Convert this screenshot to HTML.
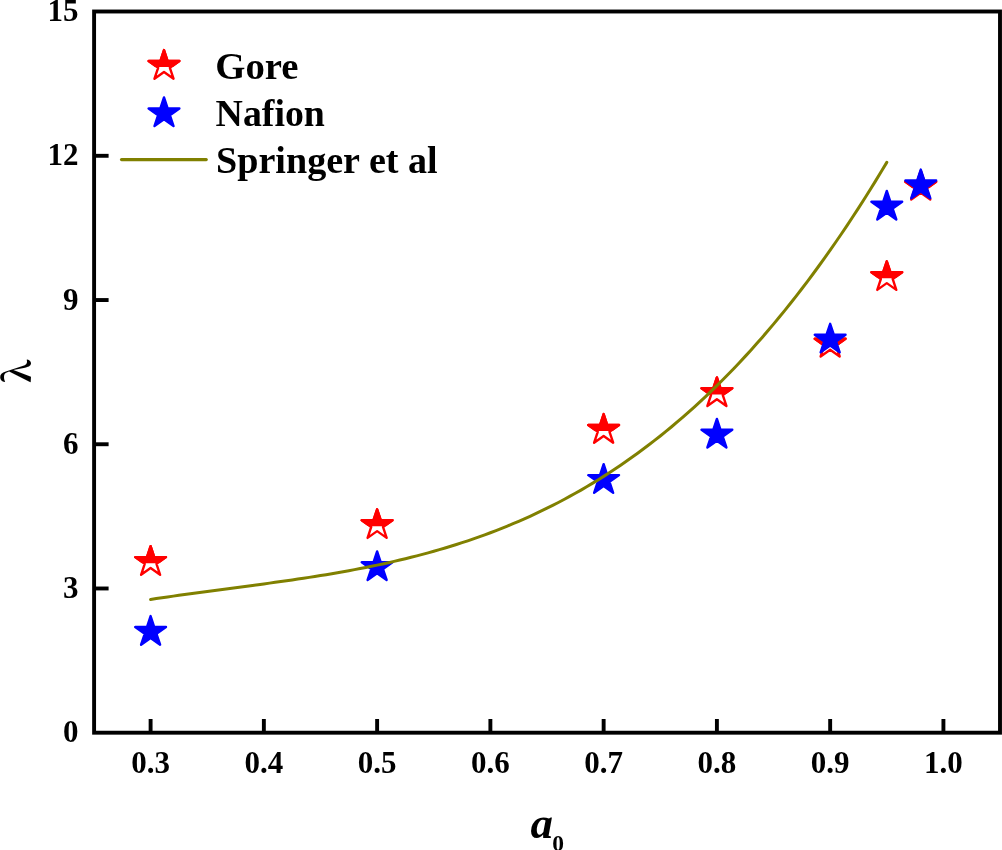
<!DOCTYPE html>
<html lang="en"><head><meta charset="utf-8"><title>Water content vs activity</title>
<style>
html,body{margin:0;padding:0;background:#fff;}
body{width:1002px;height:850px;overflow:hidden;}
svg{display:block;}
text{font-family:"Liberation Serif",serif;font-weight:bold;fill:#000;}
.tick{font-size:31px;}
.leg{font-size:37px;}
.ttl{font-size:45px;}
</style></head><body>
<svg width="1002" height="850" viewBox="0 0 1002 850">
<defs>
<clipPath id="half"><rect x="-30" y="-30" width="60" height="31.4"/></clipPath>
</defs>
<rect width="1002" height="850" fill="#fff"/>
<g id="gore">
<g transform="translate(150.60 561.80)"><path d="M0.00 -15.61 L3.63 -4.69 L15.40 -4.69 L5.88 2.07 L9.52 12.99 L0.00 6.24 L-9.52 12.99 L-5.88 2.07 L-15.40 -4.69 L-3.63 -4.69Z" fill="#fff" stroke="#f00" stroke-width="2.4" stroke-linejoin="round"/><path d="M0.00 -15.61 L3.63 -4.69 L15.40 -4.69 L5.88 2.07 L9.52 12.99 L0.00 6.24 L-9.52 12.99 L-5.88 2.07 L-15.40 -4.69 L-3.63 -4.69Z" fill="#f00" stroke="#f00" stroke-width="2.4" stroke-linejoin="round" clip-path="url(#half)"/></g>
<g transform="translate(377.12 524.90)"><path d="M0.00 -15.61 L3.63 -4.69 L15.40 -4.69 L5.88 2.07 L9.52 12.99 L0.00 6.24 L-9.52 12.99 L-5.88 2.07 L-15.40 -4.69 L-3.63 -4.69Z" fill="#fff" stroke="#f00" stroke-width="2.4" stroke-linejoin="round"/><path d="M0.00 -15.61 L3.63 -4.69 L15.40 -4.69 L5.88 2.07 L9.52 12.99 L0.00 6.24 L-9.52 12.99 L-5.88 2.07 L-15.40 -4.69 L-3.63 -4.69Z" fill="#f00" stroke="#f00" stroke-width="2.4" stroke-linejoin="round" clip-path="url(#half)"/></g>
<g transform="translate(603.64 429.70)"><path d="M0.00 -15.61 L3.63 -4.69 L15.40 -4.69 L5.88 2.07 L9.52 12.99 L0.00 6.24 L-9.52 12.99 L-5.88 2.07 L-15.40 -4.69 L-3.63 -4.69Z" fill="#fff" stroke="#f00" stroke-width="2.4" stroke-linejoin="round"/><path d="M0.00 -15.61 L3.63 -4.69 L15.40 -4.69 L5.88 2.07 L9.52 12.99 L0.00 6.24 L-9.52 12.99 L-5.88 2.07 L-15.40 -4.69 L-3.63 -4.69Z" fill="#f00" stroke="#f00" stroke-width="2.4" stroke-linejoin="round" clip-path="url(#half)"/></g>
<g transform="translate(716.90 393.00)"><path d="M0.00 -15.61 L3.63 -4.69 L15.40 -4.69 L5.88 2.07 L9.52 12.99 L0.00 6.24 L-9.52 12.99 L-5.88 2.07 L-15.40 -4.69 L-3.63 -4.69Z" fill="#fff" stroke="#f00" stroke-width="2.4" stroke-linejoin="round"/><path d="M0.00 -15.61 L3.63 -4.69 L15.40 -4.69 L5.88 2.07 L9.52 12.99 L0.00 6.24 L-9.52 12.99 L-5.88 2.07 L-15.40 -4.69 L-3.63 -4.69Z" fill="#f00" stroke="#f00" stroke-width="2.4" stroke-linejoin="round" clip-path="url(#half)"/></g>
<g transform="translate(830.16 343.50)"><path d="M0.00 -15.61 L3.63 -4.69 L15.40 -4.69 L5.88 2.07 L9.52 12.99 L0.00 6.24 L-9.52 12.99 L-5.88 2.07 L-15.40 -4.69 L-3.63 -4.69Z" fill="#fff" stroke="#f00" stroke-width="2.4" stroke-linejoin="round"/><path d="M0.00 -15.61 L3.63 -4.69 L15.40 -4.69 L5.88 2.07 L9.52 12.99 L0.00 6.24 L-9.52 12.99 L-5.88 2.07 L-15.40 -4.69 L-3.63 -4.69Z" fill="#f00" stroke="#f00" stroke-width="2.4" stroke-linejoin="round" clip-path="url(#half)"/></g>
<g transform="translate(886.79 276.90)"><path d="M0.00 -15.61 L3.63 -4.69 L15.40 -4.69 L5.88 2.07 L9.52 12.99 L0.00 6.24 L-9.52 12.99 L-5.88 2.07 L-15.40 -4.69 L-3.63 -4.69Z" fill="#fff" stroke="#f00" stroke-width="2.4" stroke-linejoin="round"/><path d="M0.00 -15.61 L3.63 -4.69 L15.40 -4.69 L5.88 2.07 L9.52 12.99 L0.00 6.24 L-9.52 12.99 L-5.88 2.07 L-15.40 -4.69 L-3.63 -4.69Z" fill="#f00" stroke="#f00" stroke-width="2.4" stroke-linejoin="round" clip-path="url(#half)"/></g>
<g transform="translate(920.77 186.50)"><path d="M0.00 -15.61 L3.63 -4.69 L15.40 -4.69 L5.88 2.07 L9.52 12.99 L0.00 6.24 L-9.52 12.99 L-5.88 2.07 L-15.40 -4.69 L-3.63 -4.69Z" fill="#fff" stroke="#f00" stroke-width="2.4" stroke-linejoin="round"/><path d="M0.00 -15.61 L3.63 -4.69 L15.40 -4.69 L5.88 2.07 L9.52 12.99 L0.00 6.24 L-9.52 12.99 L-5.88 2.07 L-15.40 -4.69 L-3.63 -4.69Z" fill="#f00" stroke="#f00" stroke-width="2.4" stroke-linejoin="round" clip-path="url(#half)"/></g>
</g>
<g id="nafion">
<path d="M150.60 616.09 L154.23 627.01 L166.00 627.01 L156.48 633.77 L160.12 644.69 L150.60 637.94 L141.08 644.69 L144.72 633.77 L135.20 627.01 L146.97 627.01Z" fill="#00f" stroke="#00f" stroke-width="2.4" stroke-linejoin="round"/>
<path d="M377.12 551.39 L380.75 562.31 L392.52 562.31 L383.00 569.07 L386.64 579.99 L377.12 573.24 L367.60 579.99 L371.24 569.07 L361.72 562.31 L373.49 562.31Z" fill="#00f" stroke="#00f" stroke-width="2.4" stroke-linejoin="round"/>
<path d="M603.64 464.19 L607.27 475.11 L619.04 475.11 L609.52 481.87 L613.16 492.79 L603.64 486.04 L594.12 492.79 L597.76 481.87 L588.24 475.11 L600.01 475.11Z" fill="#00f" stroke="#00f" stroke-width="2.4" stroke-linejoin="round"/>
<path d="M716.90 418.89 L720.53 429.81 L732.30 429.81 L722.78 436.57 L726.42 447.49 L716.90 440.74 L707.38 447.49 L711.02 436.57 L701.50 429.81 L713.27 429.81Z" fill="#00f" stroke="#00f" stroke-width="2.4" stroke-linejoin="round"/>
<path d="M830.16 323.79 L833.79 334.71 L845.56 334.71 L836.04 341.47 L839.68 352.39 L830.16 345.64 L820.64 352.39 L824.28 341.47 L814.76 334.71 L826.53 334.71Z" fill="#00f" stroke="#00f" stroke-width="2.4" stroke-linejoin="round"/>
<path d="M886.79 190.89 L890.42 201.81 L902.19 201.81 L892.67 208.57 L896.31 219.49 L886.79 212.74 L877.27 219.49 L880.91 208.57 L871.39 201.81 L883.16 201.81Z" fill="#00f" stroke="#00f" stroke-width="2.4" stroke-linejoin="round"/>
<path d="M920.77 169.59 L924.40 180.51 L936.17 180.51 L926.65 187.27 L930.28 198.19 L920.77 191.44 L911.25 198.19 L914.89 187.27 L905.37 180.51 L917.13 180.51Z" fill="#00f" stroke="#00f" stroke-width="2.4" stroke-linejoin="round"/>
</g>
<path d="M150.60 599.46 L156.26 598.60 L161.93 597.75 L167.59 596.92 L173.25 596.11 L178.92 595.31 L184.58 594.51 L190.24 593.73 L195.90 592.96 L201.57 592.20 L207.23 591.44 L212.89 590.68 L218.56 589.93 L224.22 589.19 L229.88 588.44 L235.55 587.69 L241.21 586.94 L246.87 586.19 L252.53 585.44 L258.20 584.68 L263.86 583.91 L269.52 583.13 L275.19 582.35 L280.85 581.55 L286.51 580.74 L292.17 579.92 L297.84 579.09 L303.50 578.24 L309.16 577.37 L314.83 576.48 L320.49 575.57 L326.15 574.65 L331.82 573.70 L337.48 572.72 L343.14 571.72 L348.80 570.70 L354.47 569.65 L360.13 568.56 L365.79 567.45 L371.46 566.31 L377.12 565.13 L382.78 563.93 L388.45 562.68 L394.11 561.40 L399.77 560.08 L405.43 558.72 L411.10 557.32 L416.76 555.88 L422.42 554.40 L428.09 552.87 L433.75 551.29 L439.41 549.67 L445.08 548.00 L450.74 546.29 L456.40 544.52 L462.06 542.69 L467.73 540.82 L473.39 538.89 L479.05 536.90 L484.72 534.86 L490.38 532.76 L496.04 530.59 L501.71 528.37 L507.37 526.08 L513.03 523.73 L518.69 521.32 L524.36 518.84 L530.02 516.29 L535.68 513.67 L541.35 510.98 L547.01 508.22 L552.67 505.39 L558.34 502.48 L564.00 499.50 L569.66 496.44 L575.32 493.30 L580.99 490.08 L586.65 486.78 L592.31 483.40 L597.98 479.94 L603.64 476.39 L609.30 472.75 L614.97 469.03 L620.63 465.22 L626.29 461.32 L631.95 457.33 L637.62 453.25 L643.28 449.07 L648.94 444.80 L654.61 440.43 L660.27 435.96 L665.93 431.40 L671.60 426.73 L677.26 421.97 L682.92 417.10 L688.58 412.12 L694.25 407.04 L699.91 401.86 L705.57 396.56 L711.24 391.16 L716.90 385.65 L722.56 380.02 L728.23 374.28 L733.89 368.43 L739.55 362.46 L745.21 356.37 L750.88 350.17 L756.54 343.84 L762.20 337.40 L767.87 330.83 L773.53 324.14 L779.19 317.32 L784.86 310.38 L790.52 303.31 L796.18 296.11 L801.84 288.79 L807.51 281.33 L813.17 273.73 L818.83 266.01 L824.50 258.15 L830.16 250.15 L835.82 242.01 L841.49 233.74 L847.15 225.32 L852.81 216.76 L858.47 208.06 L864.14 199.22 L869.80 190.23 L875.46 181.09 L881.13 171.80 L886.79 162.37" fill="none" stroke="#808000" stroke-width="3" stroke-linejoin="round" stroke-linecap="round"/>
<g stroke="#000" stroke-width="3.9" fill="none" stroke-linecap="butt">
<rect x="94.10" y="11.50" width="905.90" height="721.20"/>
<line x1="150.60" y1="732.70" x2="150.60" y2="719.00"/>
<line x1="263.86" y1="732.70" x2="263.86" y2="719.00"/>
<line x1="377.12" y1="732.70" x2="377.12" y2="719.00"/>
<line x1="490.38" y1="732.70" x2="490.38" y2="719.00"/>
<line x1="603.64" y1="732.70" x2="603.64" y2="719.00"/>
<line x1="716.90" y1="732.70" x2="716.90" y2="719.00"/>
<line x1="830.16" y1="732.70" x2="830.16" y2="719.00"/>
<line x1="943.42" y1="732.70" x2="943.42" y2="719.00"/>
<line x1="94.10" y1="588.48" x2="108.60" y2="588.48"/>
<line x1="94.10" y1="444.25" x2="108.60" y2="444.25"/>
<line x1="94.10" y1="300.03" x2="108.60" y2="300.03"/>
<line x1="94.10" y1="155.80" x2="108.60" y2="155.80"/>
</g>
<text class="tick" x="150.60" y="773" text-anchor="middle">0.3</text>
<text class="tick" x="263.86" y="773" text-anchor="middle">0.4</text>
<text class="tick" x="377.12" y="773" text-anchor="middle">0.5</text>
<text class="tick" x="490.38" y="773" text-anchor="middle">0.6</text>
<text class="tick" x="603.64" y="773" text-anchor="middle">0.7</text>
<text class="tick" x="716.90" y="773" text-anchor="middle">0.8</text>
<text class="tick" x="830.16" y="773" text-anchor="middle">0.9</text>
<text class="tick" x="943.42" y="773" text-anchor="middle">1.0</text>
<text class="tick" x="78.5" y="742.30" text-anchor="end">0</text>
<text class="tick" x="78.5" y="598.08" text-anchor="end">3</text>
<text class="tick" x="78.5" y="453.85" text-anchor="end">6</text>
<text class="tick" x="78.5" y="309.63" text-anchor="end">9</text>
<text class="tick" x="78.5" y="165.40" text-anchor="end">12</text>
<text class="tick" x="78.5" y="21.18" text-anchor="end">15</text>
<g transform="translate(164.00 65.70)"><path d="M0.00 -15.61 L3.63 -4.69 L15.40 -4.69 L5.88 2.07 L9.52 12.99 L0.00 6.24 L-9.52 12.99 L-5.88 2.07 L-15.40 -4.69 L-3.63 -4.69Z" fill="#fff" stroke="#f00" stroke-width="2.4" stroke-linejoin="round"/><path d="M0.00 -15.61 L3.63 -4.69 L15.40 -4.69 L5.88 2.07 L9.52 12.99 L0.00 6.24 L-9.52 12.99 L-5.88 2.07 L-15.40 -4.69 L-3.63 -4.69Z" fill="#f00" stroke="#f00" stroke-width="2.4" stroke-linejoin="round" clip-path="url(#half)"/></g>
<path d="M164.00 97.49 L167.63 108.41 L179.40 108.41 L169.88 115.17 L173.52 126.09 L164.00 119.34 L154.48 126.09 L158.12 115.17 L148.60 108.41 L160.37 108.41Z" fill="#00f" stroke="#00f" stroke-width="2.4" stroke-linejoin="round"/>
<line x1="121.5" y1="159.6" x2="206.3" y2="159.6" stroke="#808000" stroke-width="3.1" stroke-linecap="round"/>
<text class="leg" x="215.3" y="78.8" textLength="83.2" lengthAdjust="spacingAndGlyphs">Gore</text>
<text class="leg" x="215.6" y="125.5" textLength="109.3" lengthAdjust="spacingAndGlyphs">Nafion</text>
<text class="leg" x="216" y="172.8" textLength="221.7" lengthAdjust="spacingAndGlyphs">Springer et al</text>
<text class="ttl" x="530.6" y="838.3"><tspan font-style="italic">a</tspan><tspan x="552.3" y="851.3" font-size="23.5">0</tspan></text>
<text transform="translate(30.5 383) rotate(-90)" style="font-family:'Noto Serif CJK SC','Liberation Serif',serif;font-size:37px">λ</text>
</svg></body></html>
